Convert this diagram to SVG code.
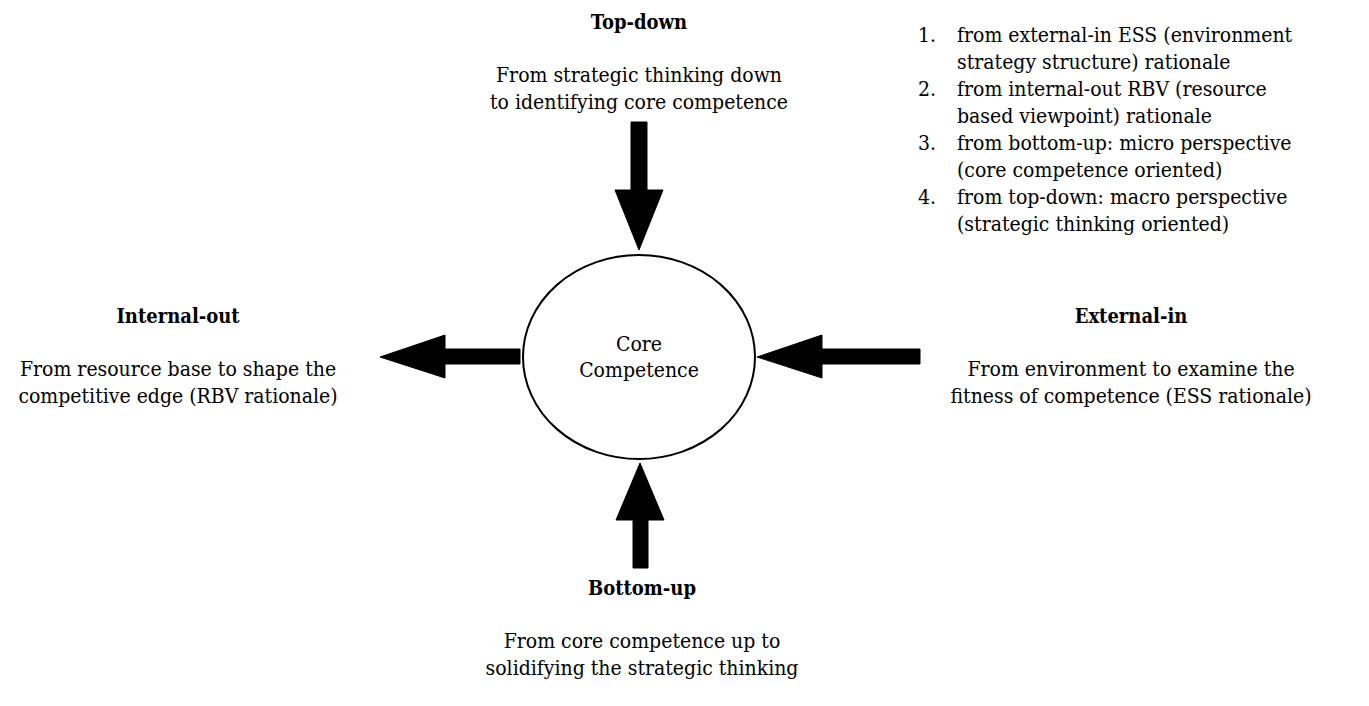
<svg xmlns="http://www.w3.org/2000/svg" width="1369" height="706" viewBox="0 0 1369 706">
<style>
text{font-family:"DejaVu Serif Condensed","DejaVu Serif","Liberation Serif",serif;font-size:21px;fill:#000}
.c{text-anchor:middle}
.b{font-weight:bold;font-size:20px}
.arr{fill:#000;stroke:#000;stroke-width:1}
</style>
<rect width="1369" height="706" fill="#fff"/>
<g id="connectors">
<polygon class="arr" points="631,122 647,122 647,190 663,190 639,250 615,190 631,190"/>
<polygon class="arr" points="633,568 648,568 648,520 664,520 640,463 616,520 633,520"/>
<polygon class="arr" points="520,349 520,364 445,364 445,378 380,357 445,335 445,349"/>
<polygon class="arr" points="920,349 920,364 822,364 822,378 757,357 822,335 822,349"/>
</g>
<g id="core">
<ellipse cx="639" cy="357" rx="116" ry="102" fill="#fff" stroke="#000" stroke-width="2"/>
<text class="c" x="639" y="351">Core</text>
<text class="c" x="639" y="377">Competence</text>
</g>
<g id="topdown">
<text class="c b" x="639" y="29">Top-down</text>
<text class="c" x="639" y="82">From strategic thinking down</text>
<text class="c" x="639" y="109">to identifying core competence</text>
</g>
<g id="internalout">
<text class="c b" x="178" y="323">Internal-out</text>
<text class="c" x="178" y="376">From resource base to shape the</text>
<text class="c" x="178" y="403">competitive edge (RBV rationale)</text>
</g>
<g id="externalin">
<text class="c b" x="1131" y="323">External-in</text>
<text class="c" x="1131" y="376">From environment to examine the</text>
<text class="c" x="1131" y="403">fitness of competence (ESS rationale)</text>
</g>
<g id="bottomup">
<text class="c b" x="642" y="595">Bottom-up</text>
<text class="c" x="642" y="648">From core competence up to</text>
<text class="c" x="642" y="675">solidifying the strategic thinking</text>
</g>
<g id="list">
<text x="918" y="42">1.</text><text x="957" y="42">from external-in ESS (environment</text>
<text x="957" y="69">strategy structure) rationale</text>
<text x="918" y="96">2.</text><text x="957" y="96">from internal-out RBV (resource</text>
<text x="957" y="123">based viewpoint) rationale</text>
<text x="918" y="150">3.</text><text x="957" y="150">from bottom-up: micro perspective</text>
<text x="957" y="177">(core competence oriented)</text>
<text x="918" y="204">4.</text><text x="957" y="204">from top-down: macro perspective</text>
<text x="957" y="231">(strategic thinking oriented)</text>
</g>
</svg>
